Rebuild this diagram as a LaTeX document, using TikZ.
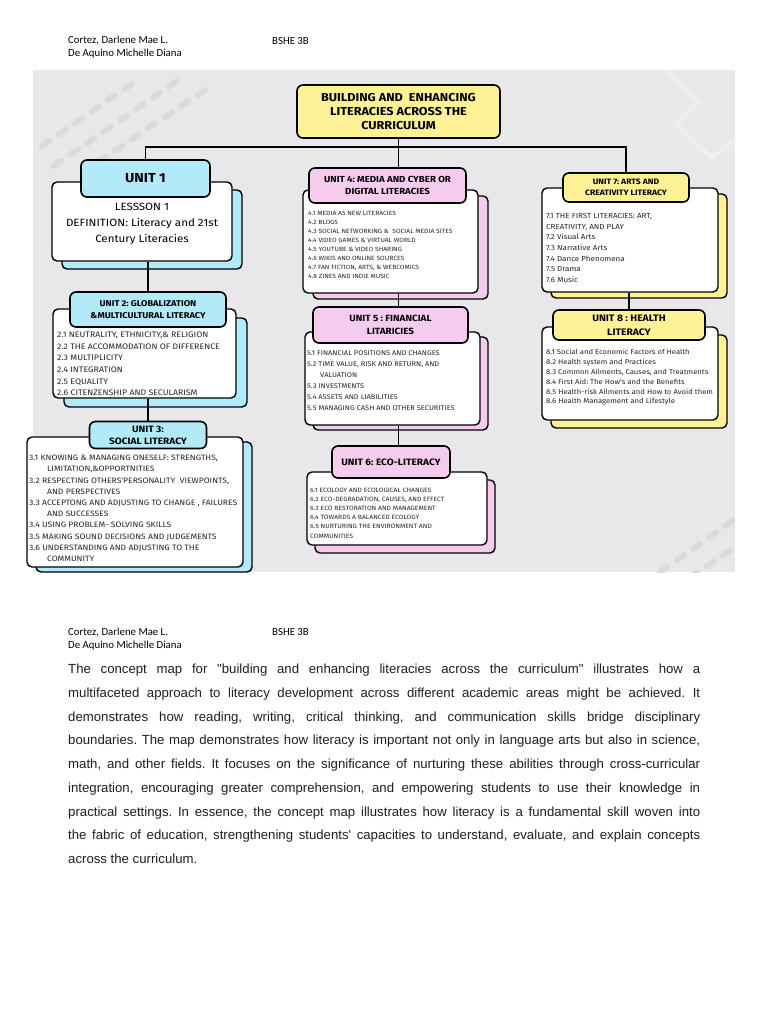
\documentclass[tikz,border=0pt]{standalone}
\usepackage{fontspec}
\setmainfont{Liberation Sans}[Ligatures=TeXOff]
\newfontfamily\notefont{Carlito}
\newfontfamily\mapfont[FakeStretch=1.1]{Fira Sans}
\usetikzlibrary{calc,positioning}
\definecolor{panelgray}{RGB}{232,231,233}
\definecolor{unitblue}{RGB}{178,234,250}
\definecolor{unitpink}{RGB}{246,204,238}
\definecolor{unityellow}{RGB}{255,241,150}
\definecolor{dashgray}{RGB}{218,218,220}
\definecolor{zigwhite}{RGB}{239,239,241}
\frenchspacing

\begin{document}
\begin{tikzpicture}[x=1pt, y=-1pt,
  every node/.style={inner sep=0pt},
  card/.style={draw, line width=1.4pt, rounded corners=5pt, fill=white},
  cardshadow/.style={draw, line width=1.4pt, rounded corners=5pt},
  unithead/.style={draw, line width=1.6pt, rounded corners=6pt, align=center},
  items/.style={anchor=west, align=left, text=black!85},
  link/.style={line width=1.8pt},
  note/.style={anchor=west, align=left, font=\notefont\fontsize{10.8}{12.5}\selectfont}]
  \useasboundingbox (0,0) rectangle (768,1024);
  \fill[white] (0,0) rectangle (768,1024);

  % student names, top of both pages
  \node[note] (names1) at (68,47) {Cortez, Darlene Mae L.\\De Aquino Michelle Diana};
  \node[note] (sect1) at (272,41) {BSHE 3B};
  \node[note] (names2) at (68,639) {Cortez, Darlene Mae L.\\De Aquino Michelle Diana};
  \node[note] (sect2) at (272,632) {BSHE 3B};

  % gray panel with its faint decorations
  \fill[panelgray] (33,70) rectangle (735,572);
  \begin{scope}
    \clip (33,70) rectangle (735,572);
    \foreach \a/\b/\c/\d in {42/146/140/78, 54/166/184/76, 98/162/208/88}
      \draw[dashgray, line width=6pt, line cap=round, dash pattern=on 9pt off 11pt] (\a,\b) -- (\c,\d);
    \draw[zigwhite, line width=4pt, line join=round, line cap=round]
      (668,72) -- (698,102) -- (676,124) -- (712,158) -- (738,136);
    \draw[zigwhite, line width=4pt, line cap=round] (26,500) arc[start angle=200, end angle=120, radius=40];
    \foreach \a/\b/\c/\d in {660/572/745/512, 690/578/745/540}
      \draw[dashgray, line width=6pt, line cap=round, dash pattern=on 9pt off 11pt] (\a,\b) -- (\c,\d);
  \end{scope}

  % cards: coloured shadow first, then the white face
  \foreach \n/\cx/\cy/\w/\h/\dx/\dy/\col in {
      u1/142/221.5/180/79/10/8/unitblue,
      u2/144.5/353.5/183/89/11/9/unitblue,
      u3/135/502/216/130/9/5/unitblue,
      u4/390.5/241.5/175/103/10/6/unitpink,
      u5/392.5/378.5/175/93/8/5/unitpink,
      u6/397/508.5/180/73/8/8/unitpink,
      u7/630/240/176/104/9/6/unityellow,
      u8/630/373.5/176/93/9/8/unityellow}{
    \node[cardshadow, fill=\col, minimum width=\w pt, minimum height=\h pt] (\n s) at ([shift={(\dx,\dy)}]\cx,\cy) {};
    \node[card, minimum width=\w pt, minimum height=\h pt] (\n) at (\cx,\cy) {};
  }

  % headers
  \node[unithead, fill=unityellow, minimum width=203pt, minimum height=53pt,
    font=\mapfont\bfseries\fontsize{11.5}{14}\selectfont] (title) at (398.5,111.5)
    {BUILDING AND\ \ ENHANCING\\LITERACIES ACROSS THE\\CURRICULUM};
  \node[unithead, fill=unitblue, minimum width=129pt, minimum height=37pt,
    font=\mapfont\bfseries\fontsize{13}{14}\selectfont] (u1h) at (145.5,178.5) {UNIT 1};
  \node[unithead, fill=unitblue, minimum width=156pt, minimum height=35pt,
    font=\mapfont\bfseries\fontsize{8.4}{12}\selectfont] (u2h) at (148,309.5)
    {UNIT 2: GLOBALIZATION\\\&MULTICULTURAL LITERACY};
  \node[unithead, fill=unitblue, minimum width=117pt, minimum height=27pt,
    font=\mapfont\bfseries\fontsize{9.2}{12}\selectfont] (u3h) at (148,435)
    {UNIT 3:\\SOCIAL LITERACY};
  \node[unithead, fill=unitpink, minimum width=157pt, minimum height=35pt,
    font=\mapfont\bfseries\fontsize{8.8}{12}\selectfont] (u4h) at (387.5,185.5)
    {UNIT 4: MEDIA AND CYBER OR\\DIGITAL LITERACIES};
  \node[unithead, fill=unitpink, minimum width=155pt, minimum height=36pt,
    font=\mapfont\bfseries\fontsize{9}{13}\selectfont] (u5h) at (390.5,325)
    {UNIT 5 : FINANCIAL\\LITARICIES};
  \node[unithead, fill=unitpink, minimum width=118pt, minimum height=32pt,
    font=\mapfont\bfseries\fontsize{9.2}{12}\selectfont] (u6h) at (391,462)
    {UNIT 6: ECO-LITERACY};
  \node[unithead, fill=unityellow, minimum width=126pt, minimum height=29pt,
    font=\mapfont\bfseries\fontsize{7.8}{11}\selectfont] (u7h) at (626,187.5)
    {UNIT 7: ARTS AND\\CREATIVITY LITERACY};
  \node[unithead, fill=unityellow, minimum width=152pt, minimum height=30pt,
    font=\mapfont\bfseries\fontsize{9.4}{14}\selectfont] (u8h) at (629,325)
    {UNIT 8 : HEALTH\\LITERACY};

  % card contents
  \node[align=center, font=\mapfont\fontsize{10.5}{16}\selectfont] (u1t) at (142,224)
    {LESSSON 1\\DEFINITION: Literacy and 21st\\Century Literacies};
  \node[items, font=\mapfont\fontsize{8}{11.6}\selectfont] (u2t) at (57,364)
    {2.1 NEUTRALITY, ETHNICITY,\& RELIGION\\2.2 THE ACCOMMODATION OF DIFFERENCE\\2.3 MULTIPLICITY\\2.4 INTEGRATION\\2.5 EQUALITY\\2.6 CITENZENSHIP AND SECULARISM};
  \node[items, font=\mapfont\fontsize{7.8}{11.2}\selectfont] (u3t) at (29,508.5)
    {3.1 KNOWING \& MANAGING ONESELF: STRENGTHS,\\\hspace*{18pt}LIMITATION,\&OPPORTNITIES\\3.2 RESPECTING OTHERS'PERSONALITY\ \ VIEWPOINTS,\\\hspace*{18pt}AND PERSPECTIVES\\3.3 ACCEPTONG AND ADJUSTING TO CHANGE , FAILURES\\\hspace*{18pt}AND SUCCESSES\\3.4 USING PROBLEM- SOLVING SKILLS\\3.5 MAKING SOUND DECISIONS AND JUDGEMENTS\\3.6 UNDERSTANDING AND ADJUSTING TO THE\\\hspace*{18pt}COMMUNITY};
  \node[items, font=\mapfont\fontsize{6.1}{9}\selectfont] (u4t) at (308,244.5)
    {4.1 MEDIA AS NEW LITERACIES\\4.2 BLOGS\\4.3 SOCIAL NETWORKING \&\ \ SOCIAL MEDIA SITES\\4.4 VIDEO GAMES \& VIRTUAL WORLD\\4.5 YOUTUBE \& VIDEO SHARING\\4.6 WIKIS AND ONLINE SOURCES\\4.7 FAN FICTION, ARTS, \& WEBCOMICS\\4.8 ZINES AND INDIE MUSIC};
  \node[items, font=\mapfont\fontsize{6.8}{11}\selectfont] (u5t) at (307,380.5)
    {5.1 FINANCIAL POSITIONS AND CHANGES\\5.2 TIME VALUE, RISK AND RETURN, AND\\\hspace*{13pt}VALUATION\\5.3 INVESTMENTS\\5.4 ASSETS AND LIABILITIES\\5.5 MANAGING CASH AND OTHER SECURITIES};
  \node[items, font=\mapfont\fontsize{6.2}{9.2}\selectfont] (u6t) at (310,513)
    {6.1 ECOLOGY AND ECOLOGICAL CHANGES\\6.2 ECO-DEGRADATION, CAUSES, AND EFFECT\\6.3 ECO RESTORATION AND MANAGEMENT\\6.4 TOWARDS A BALANCED ECOLOGY\\6.5 NURTURING THE ENVIRONMENT AND\\COMMUNITIES};
  \node[items, font=\mapfont\fontsize{7.3}{10.7}\selectfont] (u7t) at (546,248)
    {7.1 THE FIRST LITERACIES: ART,\\CREATIVITY, AND PLAY\\7.2 Visual Arts\\7.3 Narrative Arts\\7.4 Dance Phenomena\\7.5 Drama\\7.6 Music};
  \node[items, font=\mapfont\fontsize{7}{9.8}\selectfont] (u8t) at (546,377.5)
    {8.1 Social and Economic Factors of Health\\8.2 Health system and Practices\\8.3 Common Ailments, Causes, and Treatments\\8.4 First Aid: The How's and the Benefits\\8.5 Health-risk Ailments and How to Avoid them\\8.6 Health Management and Lifestyle};

  % connectors
  \coordinate (split) at (398.5,147);
  \draw[link] (title) -- (split);
  \draw[link] (split) -- (split |- u4h.north);
  \draw[link] (u1h.north) |- (split) -| (u7h.north);
  \draw[link] (u2h.north |- u1.south) -- (u2h.north);
  \draw[link] (u3h.north |- u2.south) -- (u3h.north);
  \draw[link] (split |- u4.south) -- (split |- u5h.north);
  \draw[link] (split |- u5.south) -- (split |- u6h.north);
  \draw[link] (u8h.north |- u7.south) -- (u8h.north);

  % reflection text
  \node[anchor=west, align=left, font=\fontsize{13.2}{23.75}\selectfont, text=black!88] (essay) at (68,764)
    {\makebox[632pt][s]{The concept map for "building and enhancing literacies across the curriculum" illustrates how a}\\
     \makebox[632pt][s]{multifaceted approach to literacy development across different academic areas might be achieved. It}\\
     \makebox[632pt][s]{demonstrates how reading, writing, critical thinking, and communication skills bridge disciplinary}\\
     \makebox[632pt][s]{boundaries. The map demonstrates how literacy is important not only in language arts but also in science,}\\
     \makebox[632pt][s]{math, and other fields. It focuses on the significance of nurturing these abilities through cross-curricular}\\
     \makebox[632pt][s]{integration, encouraging greater comprehension, and empowering students to use their knowledge in}\\
     \makebox[632pt][s]{practical settings. In essence, the concept map illustrates how literacy is a fundamental skill woven into}\\
     \makebox[632pt][s]{the fabric of education, strengthening students' capacities to understand, evaluate, and explain concepts}\\
     across the curriculum.};
\end{tikzpicture}
\end{document}
